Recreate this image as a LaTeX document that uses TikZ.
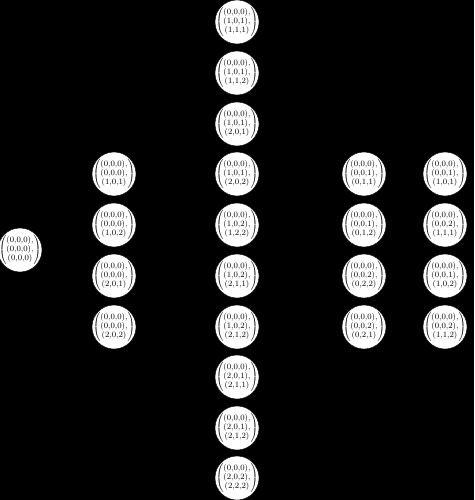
\documentclass[tikz,border=0pt]{standalone}
\usepackage{amsmath}
\newcommand{\stt}[3]{$\begin{pmatrix}\text{(#1),}\\\text{(#2),}\\\text{(#3)}\end{pmatrix}$}
\begin{document}
\begin{tikzpicture}[x=1pt,y=-1pt,
  st/.style={circle,draw=black,fill=white,minimum size=44pt,inner sep=-4pt,
    font=\fontsize{8.2}{9}\selectfont}]
\fill[black] (0,0) rectangle (474,500);
\useasboundingbox (0,0) rectangle (474,500);
% column 1
\node[st] (a) at (20,250) {\stt{0,0,0}{0,0,0}{0,0,0}};
% column 2
\node[st] (b1) at (114,174) {\stt{0,0,0}{0,0,0}{1,0,1}};
\node[st] (b2) at (114,225) {\stt{0,0,0}{0,0,0}{1,0,2}};
\node[st] (b3) at (114,276) {\stt{0,0,0}{0,0,0}{2,0,1}};
\node[st] (b4) at (114,327) {\stt{0,0,0}{0,0,0}{2,0,2}};
% column 3
\node[st] (c1) at (237,22) {\stt{0,0,0}{1,0,1}{1,1,1}};
\node[st] (c2) at (237,73) {\stt{0,0,0}{1,0,1}{1,1,2}};
\node[st] (c3) at (237,124) {\stt{0,0,0}{1,0,1}{2,0,1}};
\node[st] (c4) at (237,174) {\stt{0,0,0}{1,0,1}{2,0,2}};
\node[st] (c5) at (237,225) {\stt{0,0,0}{1,0,2}{1,2,2}};
\node[st] (c6) at (237,276) {\stt{0,0,0}{1,0,2}{2,1,1}};
\node[st] (c7) at (237,327) {\stt{0,0,0}{1,0,2}{2,1,2}};
\node[st] (c8) at (237,377) {\stt{0,0,0}{2,0,1}{2,1,1}};
\node[st] (c9) at (237,428) {\stt{0,0,0}{2,0,1}{2,1,2}};
\node[st] (c10) at (237,478) {\stt{0,0,0}{2,0,2}{2,2,2}};
% column 4
\node[st] (d1) at (364,174) {\stt{0,0,0}{0,0,1}{0,1,1}};
\node[st] (d2) at (364,225) {\stt{0,0,0}{0,0,1}{0,1,2}};
\node[st] (d3) at (364,276) {\stt{0,0,0}{0,0,2}{0,2,2}};
\node[st] (d4) at (364,327) {\stt{0,0,0}{0,0,2}{0,2,1}};
% column 5
\node[st] (e1) at (445,174) {\stt{0,0,0}{0,0,1}{1,0,1}};
\node[st] (e2) at (445,225) {\stt{0,0,0}{0,0,2}{1,1,1}};
\node[st] (e3) at (445,276) {\stt{0,0,0}{0,0,1}{1,0,2}};
\node[st] (e4) at (445,327) {\stt{0,0,0}{0,0,2}{1,1,2}};
\end{tikzpicture}
\end{document}
